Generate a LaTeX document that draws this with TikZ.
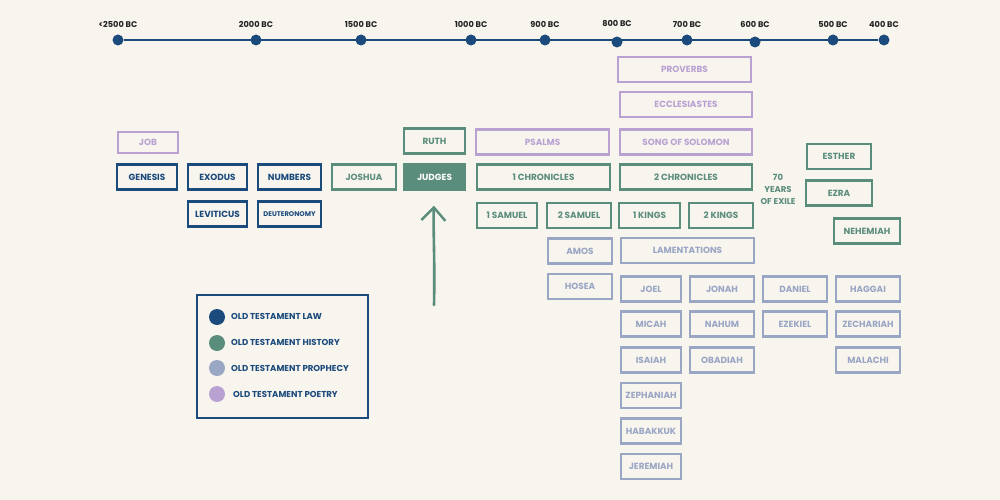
\documentclass[tikz,border=0pt]{standalone}
\usepackage{fontspec}
\setmainfont{Poppins}
\usetikzlibrary{arrows.meta}
\definecolor{bgc}{HTML}{F8F4EE}
\definecolor{lawc}{HTML}{1B4B7C}
\definecolor{histc}{HTML}{5B8D7D}
\definecolor{prophc}{HTML}{99A6C4}
\definecolor{poetc}{HTML}{B9A2D2}
\definecolor{datec}{HTML}{222222}
\tikzset{
  box/.style={draw, line width=2.4pt, minimum height=25pt, inner sep=0pt, font=\bfseries\fontsize{8.9}{10}\selectfont},
  bw/.style={minimum width=#1},
  law/.style={box, draw=lawc, text=lawc},
  hist/.style={box, draw=histc, text=histc},
  proph/.style={box, draw=prophc, text=prophc},
  poet/.style={box, draw=poetc, text=poetc},
  dot/.style={circle, fill=lawc, inner sep=0pt, minimum size=11pt},
  date/.style={font=\bfseries\fontsize{8.2}{10}\selectfont, text=datec},
  tl/.style={draw=lawc, line width=2.2pt},
  legdot/.style={circle, inner sep=0pt, minimum size=16pt},
  legtxt/.style={anchor=west, text=lawc, font=\bfseries\fontsize{8.6}{10}\selectfont, inner sep=0pt}
}
\begin{document}
\begin{tikzpicture}[x=1pt,y=-1pt]
\useasboundingbox (0,0) rectangle (1000,500);
\fill[bgc] (0,0) rectangle (1000,500);
% timeline
\foreach \n/\x/\y/\t in {d1/118/40/{<2500 BC},d2/256/40/{2000 BC},d3/361/40/{1500 BC},d4/471/40/{1000 BC},d5/545/40/{900 BC},d6/617/42/{800 BC},d7/687/40/{700 BC},d8/755/42/{600 BC},d9/833/40/{500 BC},d10/884/40/{400 BC}}{
  \node[dot] (\n) at (\x,\y) {};
  \node[date] (\n t) at (\x,24) {\t};
}
\draw[tl] (d1) -- (d10);
% law
\node[law, bw=59.5pt] (genesis) at (147,177) {GENESIS};
\node[law, bw=58.5pt] (exodus) at (217.5,177) {EXODUS};
\node[law, bw=62.5pt] (numbers) at (289.5,177) {NUMBERS};
\node[law, bw=58.5pt] (leviticus) at (217.5,214) {LEVITICUS};
\node[law, bw=62.5pt, font=\bfseries\fontsize{6.8}{8}\selectfont] (deut) at (289.5,214) {DEUTERONOMY};
% poetry
\node[poet, bw=59.5pt, minimum height=21pt] (job) at (148,142.5) {JOB};
\node[poet, bw=132.5pt] (psalms) at (542.5,142) {PSALMS};
\node[poet, bw=132.5pt] (proverbs) at (684.5,69.5) {PROVERBS};
\node[poet, bw=131.5pt] (eccl) at (686,104.5) {ECCLESIASTES};
\node[poet, bw=131.5pt] (song) at (686,142) {SONG OF SOLOMON};
% history
\node[hist, bw=63.5pt] (joshua) at (364,177) {JOSHUA};
\node[hist, bw=60.5pt, fill=histc, text=white] (judges) at (434.5,177) {JUDGES};
\node[hist, bw=60.5pt] (ruth) at (434.5,141) {RUTH};
\node[hist, bw=132.5pt] (chron1) at (543.5,177) {1 CHRONICLES};
\node[hist, bw=131.5pt] (chron2) at (686,177) {2 CHRONICLES};
\node[hist, bw=59.5pt] (sam1) at (507,215.5) {1 SAMUEL};
\node[hist, bw=63.5pt] (sam2) at (579,215.5) {2 SAMUEL};
\node[hist, bw=60.5pt] (kings1) at (649.5,215.5) {1 KINGS};
\node[hist, bw=63.5pt] (kings2) at (721,215.5) {2 KINGS};
\node[hist, bw=63.5pt] (esther) at (839,156.5) {ESTHER};
\node[hist, bw=65.5pt] (ezra) at (839,193) {EZRA};
\node[hist, bw=65.5pt] (nehemiah) at (867,231) {NEHEMIAH};
\node[text=histc, font=\bfseries\fontsize{8.5}{12}\selectfont, align=center, inner sep=0pt] (exile) at (778,189) {70\\YEARS\\OF EXILE};
% prophecy
\node[proph, bw=63.5pt] (amos) at (580,251) {AMOS};
\node[proph, bw=132.5pt] (lam) at (687.5,250.5) {LAMENTATIONS};
\node[proph, bw=63.5pt] (hosea) at (580,286.5) {HOSEA};
\node[proph, bw=59.5pt] (joel) at (651,289) {JOEL};
\node[proph, bw=63.5pt] (jonah) at (722,289) {JONAH};
\node[proph, bw=63.5pt] (daniel) at (795,289) {DANIEL};
\node[proph, bw=63.5pt] (haggai) at (868,289) {HAGGAI};
\node[proph, bw=59.5pt] (micah) at (651,324) {MICAH};
\node[proph, bw=63.5pt] (nahum) at (722,324) {NAHUM};
\node[proph, bw=63.5pt] (ezekiel) at (795,324) {EZEKIEL};
\node[proph, bw=63.5pt] (zech) at (868,324) {ZECHARIAH};
\node[proph, bw=59.5pt] (isaiah) at (651,360) {ISAIAH};
\node[proph, bw=63.5pt] (obadiah) at (722,360) {OBADIAH};
\node[proph, bw=63.5pt] (malachi) at (868,360) {MALACHI};
\node[proph, bw=59.5pt] (zeph) at (651,395.5) {ZEPHANIAH};
\node[proph, bw=59.5pt] (habak) at (651,431) {HABAKKUK};
\node[proph, bw=59.5pt] (jer) at (651,466.5) {JEREMIAH};
% arrow
\coordinate (arrstart) at (434,305);
\draw[histc, line width=2.6pt, line cap=round, -{Straight Barb[length=13pt,width=24pt,line width=2.4pt]}, shorten >=15pt]
  (arrstart) .. controls (435,260) and (433,230) .. (judges.south);
% legend
\node[draw=lawc, line width=2pt, minimum width=171pt, minimum height=123pt, inner sep=0pt] (legend) at (282.5,356.5) {};
\node[legdot, fill=lawc] (l1) at (217,317) {};
\node[legdot, fill=histc] (l2) at (217,343) {};
\node[legdot, fill=prophc] (l3) at (217,368) {};
\node[legdot, fill=poetc] (l4) at (217,394) {};
\node[legtxt] (t1) at (231,316) {OLD TESTAMENT LAW};
\node[legtxt] (t2) at (231,342) {OLD TESTAMENT HISTORY};
\node[legtxt] (t3) at (231,368) {OLD TESTAMENT PROPHECY};
\node[legtxt] (t4) at (233,394) {OLD TESTAMENT POETRY};
\end{tikzpicture}
\end{document}
